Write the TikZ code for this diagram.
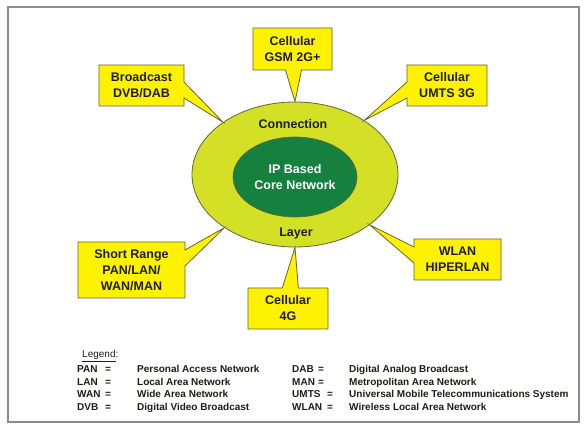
\documentclass[tikz,border=0pt]{standalone}
\usepackage{fontspec}
\setmainfont{Liberation Sans}
\usetikzlibrary{positioning,shapes.geometric,shapes.callouts}
\definecolor{boxyellow}{RGB}{255,242,0}
\definecolor{boxline}{RGB}{100,100,55}
\definecolor{layergreen}{RGB}{212,224,38}
\definecolor{coregreen}{RGB}{22,128,62}
\definecolor{textdark}{RGB}{30,30,20}
\definecolor{framegray}{RGB}{140,140,140}

\begin{document}
\begin{tikzpicture}[x=1pt,y=1pt,
  label/.style={inner sep=0pt,align=center,text=textdark,font=\fontsize{12.5}{16}\selectfont\bfseries},
  bubble/.style={label,rectangle callout,draw=boxline,fill=boxyellow,line width=0.8pt,callout pointer width=16pt},
  legtxt/.style={anchor=base west,inner sep=0pt,text=textdark,font=\fontsize{10}{12}\selectfont\bfseries},
  legeq/.style={legtxt,anchor=base}]
\useasboundingbox (0,0) rectangle (588,428);
\draw [framegray,line width=1.5pt] (8,6) rectangle (579,421);
\node [ellipse,draw=boxline,fill=layergreen,line width=0.8pt,minimum width=206pt,minimum height=145pt,inner sep=0pt] (layer) at (295,253.5) {};
\node [label,ellipse,draw=boxline,fill=coregreen,line width=0.6pt,minimum width=124pt,minimum height=80pt,text=white] (core) at (295,251) {IP Based\\Core Network};
\node [label] (conn) at (293,304) {Connection};
\node [label] (lay) at (296,195) {Layer};

\node [bubble,minimum width=79pt,minimum height=42pt,callout absolute pointer={(layer.90)}] (gsm) at (292.5,379) {Cellular\\GSM 2G+};
\node [bubble,minimum width=85pt,minimum height=41pt,callout absolute pointer={(layer.144)}] (dvb) at (141.5,342.5) {Broadcast\\DVB/DAB};
\node [bubble,minimum width=80pt,minimum height=41pt,callout absolute pointer={(layer.38)}] (umts) at (447,342.5) {Cellular\\UMTS 3G};
\node [bubble,minimum width=107pt,minimum height=56pt,callout absolute pointer={(layer.217)}] (short) at (131.5,158) {Short Range\\PAN/LAN/\\WAN/MAN};
\node [bubble,minimum width=87pt,minimum height=41pt,callout absolute pointer={(layer.326)}] (wlan) at (457.5,168.5) {WLAN\\HIPERLAN};
\node [bubble,minimum width=80pt,minimum height=41pt,callout absolute pointer={(layer.270)}] (g4) at (288,119.5) {Cellular\\4G};

\node [legtxt,font=\fontsize{10}{12}\selectfont] (leg) at (82,70.5) {\underline{Legend}:};
\node [legtxt] (pan) at (77,55.5) {PAN};
\node [legeq] (paneq) at (108,55.5) {=};
\node [legtxt] (pandef) at (137,55.5) {Personal Access Network};
\node [legtxt] (lan) at (77,42.8) {LAN};
\node [legeq] (laneq) at (108,42.8) {=};
\node [legtxt] (landef) at (137,42.8) {Local Area Network};
\node [legtxt] (wan) at (77,30.1) {WAN};
\node [legeq] (waneq) at (108,30.1) {=};
\node [legtxt] (wandef) at (137,30.1) {Wide Area Network};
\node [legtxt] (dvbab) at (77,17.4) {DVB};
\node [legeq] (dvbeq) at (108,17.4) {=};
\node [legtxt] (dvbdef) at (137,17.4) {Digital Video Broadcast};
\node [legtxt] (dab) at (292,55.5) {DAB};
\node [legeq] (dabeq) at (321,55.5) {=};
\node [legtxt] (dabdef) at (349,55.5) {Digital Analog Broadcast};
\node [legtxt] (man) at (292,42.8) {MAN};
\node [legeq] (maneq) at (321,42.8) {=};
\node [legtxt] (mandef) at (349,42.8) {Metropolitan Area Network};
\node [legtxt] (umtsab) at (292,30.1) {UMTS};
\node [legeq] (umtseq) at (330,30.1) {=};
\node [legtxt] (umtsdef) at (349,30.1) {Universal Mobile Telecommunications System};
\node [legtxt] (wlanab) at (292,17.4) {WLAN};
\node [legeq] (wlaneq) at (330,17.4) {=};
\node [legtxt] (wlandef) at (349,17.4) {Wireless Local Area Network};
\end{tikzpicture}
\end{document}
